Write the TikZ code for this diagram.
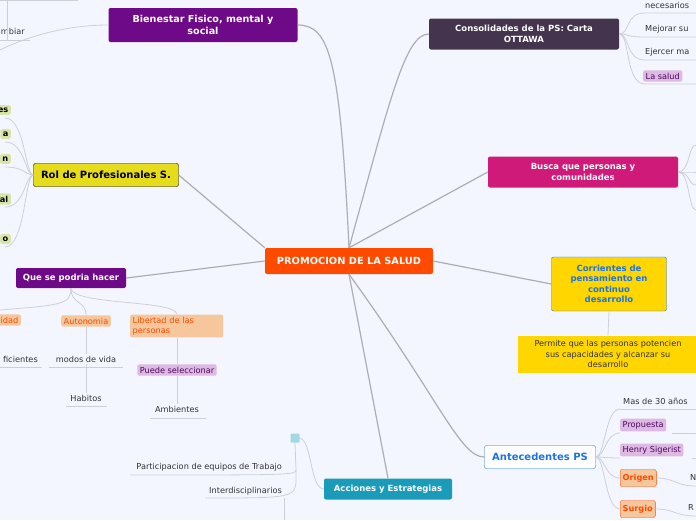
\documentclass[tikz,border=0pt]{standalone}
\usepackage{fontspec}
\setmainfont{DejaVu Sans}
\usetikzlibrary{calc,positioning}
\definecolor{bg0}{HTML}{F3F6FE}
\definecolor{rootc}{HTML}{FF4A00}
\definecolor{purp}{HTML}{6E0A87}
\definecolor{plum}{HTML}{45344D}
\definecolor{magen}{HTML}{D01A7A}
\definecolor{gold}{HTML}{FFD600}
\definecolor{blue}{HTML}{1A73E8}
\definecolor{teal}{HTML}{1A9BBA}
\definecolor{rolc}{HTML}{E6DC1C}
\definecolor{mainline}{HTML}{ADADB5}
\definecolor{subline}{HTML}{CDD0D8}
\definecolor{lila}{HTML}{DDB9E3}
\definecolor{peach}{HTML}{F6C79D}
\definecolor{leaf}{HTML}{D9E4A8}
\definecolor{ink}{HTML}{333333}
\begin{document}
\begin{tikzpicture}[x=1pt, y=-1pt,
  topic/.style={
    rectangle,
    rounded corners=2pt,
    text=white,
    align=center,
    inner sep=2pt,
    font=\fontsize{8.5}{10.5}\selectfont\bfseries
  },
  tag/.style={
    rectangle,
    rounded corners=2pt,
    inner sep=2.5pt,
    font=\fontsize{8.2}{10}\selectfont
  },
  leafnode/.style={
    inner sep=2pt,
    text=ink,
    font=\fontsize{8.2}{10}\selectfont
  },
  mainedge/.style={mainline, line width=1.2pt},
  subedge/.style={subline, line width=0.8pt}
  ]
  \fill[bg0] (0,0) rectangle (696,520);
  \useasboundingbox (0,0) rectangle (696,520);

  % center and main topics
  \node[topic, fill=rootc, minimum width=168pt, minimum height=26pt, font=\fontsize{9.8}{11}\selectfont\bfseries] (root) at (349,261) {PROMOCION DE LA SALUD};
  \node[topic, fill=purp, minimum width=189pt, minimum height=34pt, font=\fontsize{9.6}{11.5}\selectfont\bfseries] (bien) at (203,25) {Bienestar Fisico, mental y\\social};
  \node[topic, fill=plum, minimum width=190pt, minimum height=31pt] (otta) at (524,34) {Consolidades de la PS: Carta\\OTTAWA};
  \node[topic, fill=magen, minimum width=190pt, minimum height=31pt] (busca) at (583,172) {Busca que personas y\\comunidades};
  \node[topic, fill=gold, draw=blue, text=blue, minimum width=115pt, minimum height=54pt] (corr) at (609,284) {Corrientes de\\pensamiento en\\continuo\\desarrollo};
  \node[topic, fill=gold, text=ink, rounded corners=0pt, minimum width=180pt, minimum height=37pt, font=\fontsize{8.2}{10.5}\selectfont] (perm) at (608,354) {Permite que las personas potencien\\sus capacidades y alcanzar su\\desarrollo};
  \node[topic, fill=white, draw=blue, text=blue, minimum width=111pt, minimum height=23pt, font=\fontsize{10}{11}\selectfont\bfseries] (ante) at (540,457) {Antecedentes PS};
  \node[topic, fill=teal, minimum width=128pt, minimum height=21pt] (acc) at (388,489) {Acciones y Estrategias};
  \node[topic, fill=purp, minimum width=110pt, minimum height=20pt] (que) at (71,278) {Que se podria hacer};
  \node[topic, fill=rolc, draw=black, text=black, minimum width=145pt, minimum height=23pt, font=\fontsize{10}{11}\selectfont\bfseries] (rol) at (106,175) {Rol de Profesionales S.};

  \draw[mainedge] (root.north) .. controls (340,60) and (330,25) .. (bien.east);
  \draw[mainedge] (root.north) .. controls (390,100) and (405,34) .. (otta.west);
  \draw[mainedge] (root.north) -- (busca.west);
  \draw[mainedge] (root.east) -- (corr.west);
  \draw[mainedge] (root.south) .. controls (440,400) and (460,457) .. (ante.west);
  \draw[mainedge] (root.south) -- (acc.north);
  \draw[mainedge] (root.west) -- (que.east);
  \draw[mainedge] (root.north west) -- (rol.east);
  \draw[subedge] (corr.south) -- (perm.north);

  % bienestar
  \node[leafnode, anchor=east] (mbi) at (27,31) {mbiar};
  \draw[subedge] (0,0) -- (78,0) (7,0) -- (7,40) (0,40) -- (30,40);
  \draw[subedge] (bien.west) .. controls (60,25) and (20,40) .. (0,50);

  % ottawa
  \begin{scope}
    \node[leafnode, anchor=west] (ot1) at (643,5) {necesarios};
    \node[leafnode, anchor=west] (ot2) at (643,29) {Mejorar su};
    \node[leafnode, anchor=west] (ot3) at (643,52) {Ejercer ma};
    \node[tag, fill=lila, text=purp!70!black, anchor=west] (ot4) at (643,76) {La salud};
    \foreach \n/\y in {ot1/13, ot2/37, ot3/60, ot4/84}
      \draw[subedge] (otta.east) .. controls (630,34) and (625,\y) .. (645,\y) -- (696,\y);
  \end{scope}

  % busca
  \foreach \y in {145,172,185,210}
    \draw[subedge] (busca.east) .. controls (690,172) and (688,\y) .. (696,\y);

  % antecedentes
  \begin{scope}
    \node[leafnode, anchor=west] (an1) at (621,401) {Mas de 30 años};
    \node[tag, fill=lila, text=purp!70!black, anchor=west] (an2) at (620,425) {Propuesta};
    \node[tag, fill=lila, text=purp!70!black, anchor=west] (an3) at (620,450) {Henry Sigerist};
    \node[tag, fill=peach, draw=rootc, text=rootc, anchor=west, minimum height=17pt, font=\fontsize{8.2}{10}\selectfont\bfseries] (an4) at (620,478) {Origen};
    \node[tag, fill=peach, draw=rootc, text=rootc, anchor=west, minimum height=17pt, font=\fontsize{8.2}{10}\selectfont\bfseries] (an5) at (620,509) {Surgio};
    \foreach \n/\y in {an1/409, an2/433, an3/458, an4/478, an5/509}
      \draw[subedge] (ante.east) .. controls (605,457) and (605,\y) .. (620,\y);
    \draw[subedge] (620,409) -- (696,409) (672,433) -- (696,433) (692,458) -- (696,458);
    \node[leafnode, anchor=west] (an6) at (688,478) {N};
    \node[leafnode, anchor=west] (an7) at (686,508) {R};
    \draw[subedge] (an4.east) .. controls (675,478) and (675,486) .. (696,486);
    \draw[subedge] (an5.east) .. controls (675,509) and (675,516) .. (696,516);
  \end{scope}

  % acciones
  \begin{scope}
    \node[rectangle, rounded corners=1pt, fill=teal!40, minimum size=9pt, inner sep=0pt] (sq) at (295,438) {};
    \node[leafnode, anchor=east] (ac1) at (284,467) {Participacion de equipos de Trabajo};
    \node[leafnode, anchor=east] (ac2) at (284,491) {Interdisciplinarios};
    \draw[subedge] (acc.west) .. controls (310,489) and (312,440) .. (sq.east);
    \draw[subedge] (sq.south) -- (296,470) .. controls (296,475) and (290,475) .. (130,475);
    \draw[subedge] (296,470) -- (296,480) .. controls (296,498) and (290,498) .. (205,498);
    \draw[subedge] (284,498) -- (284,520);
  \end{scope}

  % que se podria hacer
  \begin{scope}
    \node[tag, fill=peach, text=rootc, anchor=east] (q1) at (21,320) {idad};
    \node[tag, fill=peach, text=rootc] (q2) at (86,321) {Autonomia};
    \node[tag, fill=peach, text=rootc, align=left, text width=88pt, anchor=west] (q3) at (130,326) {Libertad de las\\personas};
    \draw[subedge] (que.south) .. controls (71,305) and (60,305) .. (0,310);
    \draw[subedge] (que.south) .. controls (71,305) and (86,300) .. (q2.north);
    \draw[subedge] (que.south) .. controls (71,305) and (178,300) .. (q3.north);
    \node[leafnode, anchor=east] (q4) at (40,359) {ficientes};
    \draw[subedge] (0,367) -- (42,367);
    \node[leafnode] (q5) at (86,359) {modos de vida};
    \node[leafnode] (q6) at (86,398) {Habitos};
    \draw[subedge] (q2.south) -- (q5.north) (q5.south) -- (q6.north);
    \draw[subedge] (49,367) -- (123,367) (66,406) -- (107,406);
    \node[tag, fill=lila, text=purp!70!black] (q7) at (177,370) {Puede seleccionar};
    \node[leafnode] (q8) at (177,409) {Ambientes};
    \draw[subedge] (q3.south -| q7.north) -- (q7.north) (q7.south) -- (q8.north);
    \draw[subedge] (150,418) -- (206,418);
  \end{scope}

  % rol
  \begin{scope}
    \foreach \n/\t/\y in {r1/es/110, r2/a/134, r3/n/159, r4/al/199, r5/o/239}{
      \node[tag, fill=leaf, anchor=east, font=\fontsize{8.2}{10}\selectfont\bfseries] (\n) at (11,\y) {\t};
      \draw[subedge] (rol.west) .. controls (25,175) and (25,\y+8) .. (5,\y+8);
    }
  \end{scope}
\end{tikzpicture}
\end{document}
